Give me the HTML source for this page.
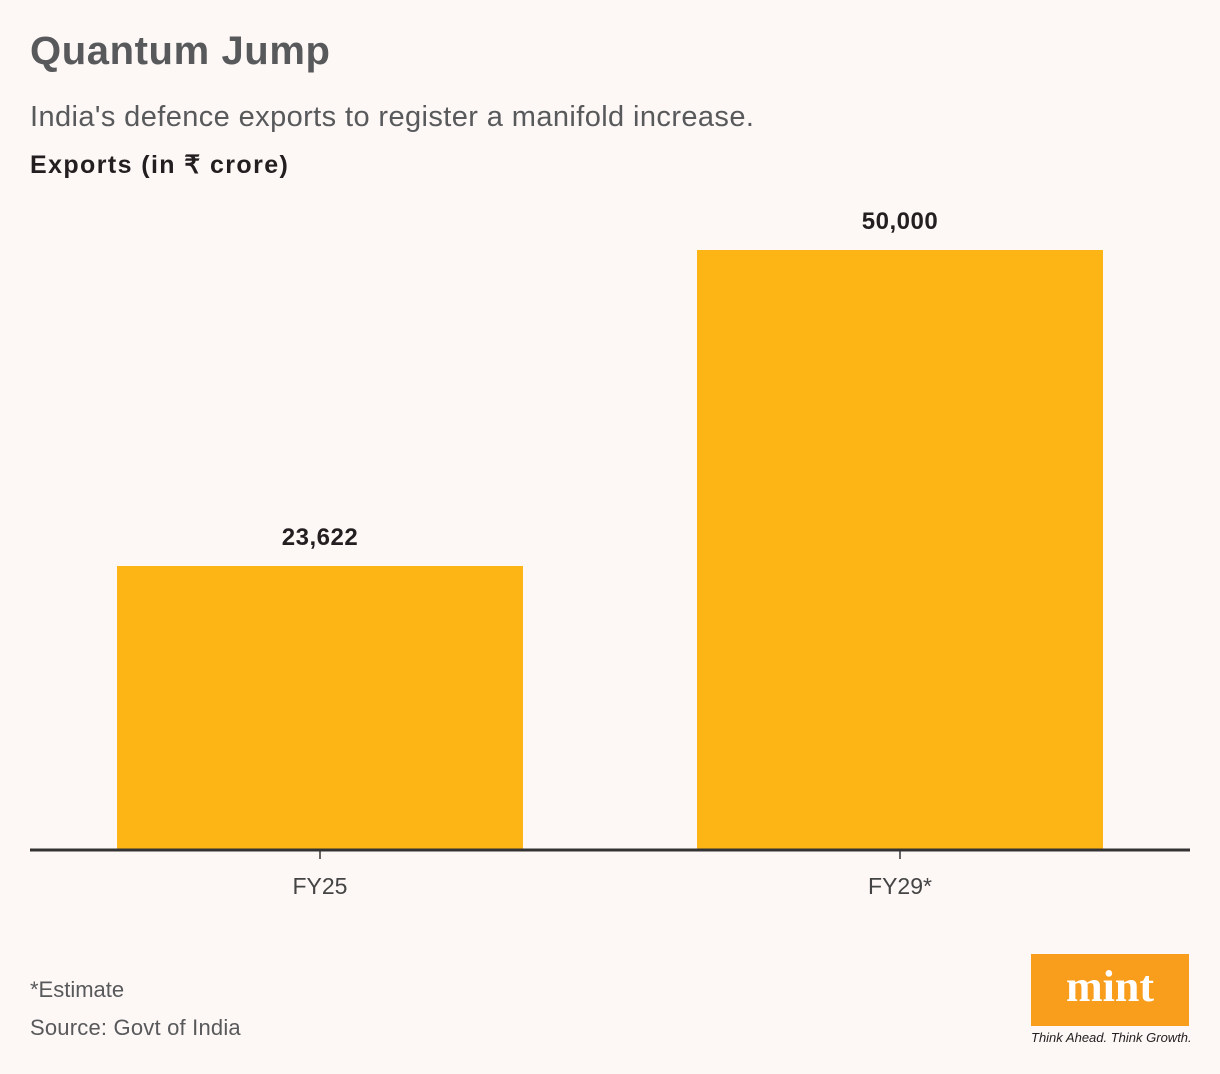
<!DOCTYPE html>
<html><head><meta charset="utf-8"><style>
body{margin:0;width:1220px;height:1074px;background:#fdf7f6;font-family:"Liberation Sans",sans-serif;position:relative;overflow:hidden}
.t{position:absolute;white-space:nowrap}
</style></head><body>
<div class="t" style="left:30px;top:29px;font-size:40px;font-weight:bold;color:#58595b;letter-spacing:0.6px">Quantum Jump</div>
<div class="t" style="left:30px;top:101px;font-size:29px;color:#58595b;letter-spacing:0.4px">India's defence exports to register a manifold increase.</div>
<div class="t" style="left:30px;top:150px;font-size:25px;font-weight:bold;color:#231f20;letter-spacing:1.4px">Exports (in ₹ crore)</div>
<svg id="chart" width="1220" height="1074" style="position:absolute;left:0;top:0"></svg>
<div class="t" style="left:30px;top:977px;font-size:22px;color:#58595b">*Estimate</div>
<div class="t" style="left:30px;top:1015px;font-size:22px;color:#58595b;letter-spacing:0.2px">Source: Govt of India</div>
<div style="position:absolute;left:1031px;top:954px;width:158px;height:72px;background:#f99d1c;color:#fff;font-family:'Liberation Serif',serif;font-weight:bold;font-size:44px;text-align:center;line-height:66px">mint</div>
<div class="t" style="left:1031px;top:1030px;font-size:13px;font-style:italic;color:#231f20;letter-spacing:0px">Think Ahead. Think Growth.</div>
<script>
const categories=["FY25","FY29*"];
const values=[23622,50000];
const valueLabels=["23,622","50,000"];
const svg=document.getElementById('chart');
const NS='http://www.w3.org/2000/svg';
const baseY=849, maxPx=599, maxV=50000;
function y(v){return baseY-v/maxV*maxPx;}
function xCenter(i){return 320+i*580;}
const bw=406;
categories.forEach((c,i)=>{
  const r=document.createElementNS(NS,'rect');
  r.setAttribute('x',xCenter(i)-bw/2);r.setAttribute('y',y(values[i]));
  r.setAttribute('width',bw);r.setAttribute('height',baseY-y(values[i]));
  r.setAttribute('fill','#fdb515');
  
  
  svg.appendChild(r);
  const t=document.createElementNS(NS,'text');
  t.setAttribute('x',xCenter(i));t.setAttribute('y',y(values[i])-21);
  t.setAttribute('text-anchor','middle');t.setAttribute('font-size','24');t.setAttribute('font-weight','bold');t.setAttribute('fill','#231f20');t.setAttribute('letter-spacing','0.5');
  t.textContent=valueLabels[i];
  
  
  svg.appendChild(t);
  const tk=document.createElementNS(NS,'line');
  tk.setAttribute('x1',xCenter(i));tk.setAttribute('x2',xCenter(i));tk.setAttribute('y1',baseY);tk.setAttribute('y2',baseY+10);
  tk.setAttribute('stroke','#333');tk.setAttribute('stroke-width','1.5');
  
  
  svg.appendChild(tk);
  const l=document.createElementNS(NS,'text');
  l.setAttribute('x',xCenter(i));l.setAttribute('y',894);
  l.setAttribute('text-anchor','middle');l.setAttribute('font-size','23');l.setAttribute('fill','#444');
  l.textContent=c;
  
  
  svg.appendChild(l);
});
const ax=document.createElementNS(NS,'line');
ax.setAttribute('x1',30);ax.setAttribute('x2',1190);ax.setAttribute('y1',baseY+1);ax.setAttribute('y2',baseY+1);
ax.setAttribute('stroke','#333');ax.setAttribute('stroke-width','3');


svg.appendChild(ax);
</script>
</body></html>
